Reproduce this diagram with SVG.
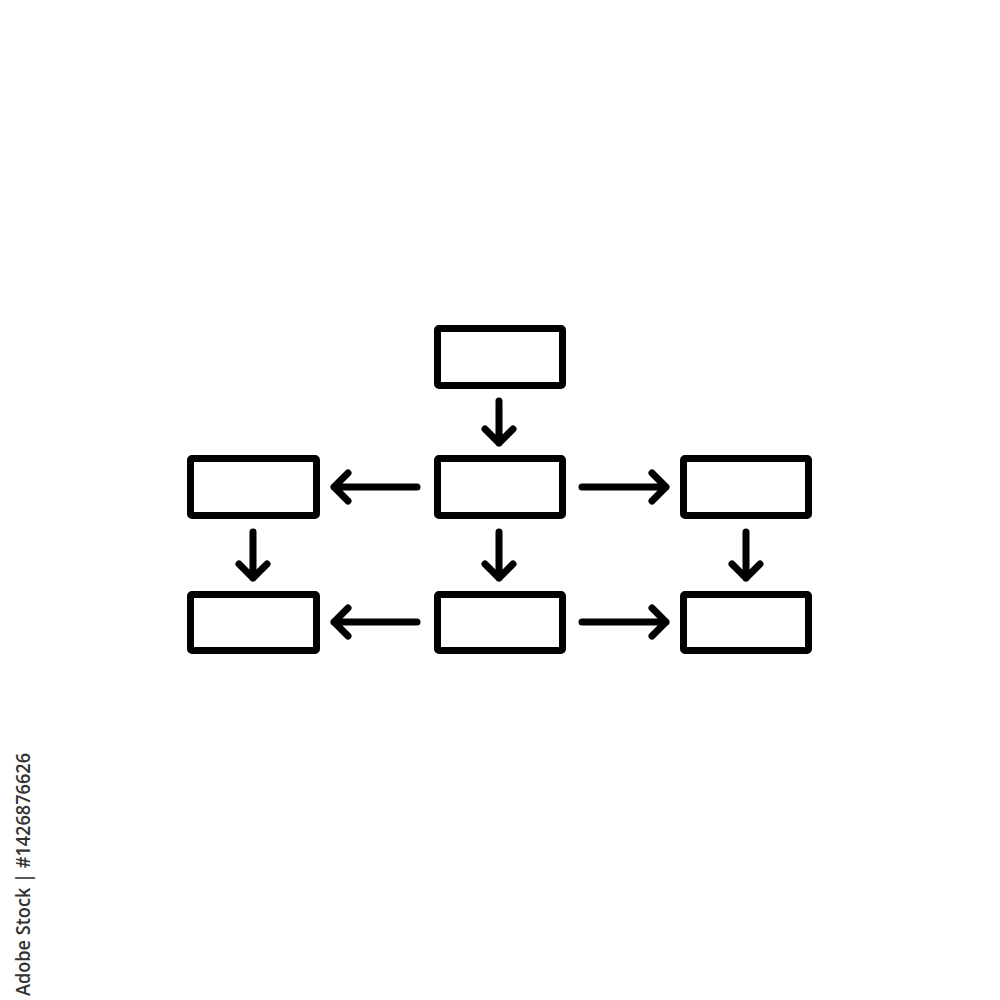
<svg xmlns="http://www.w3.org/2000/svg" width="1000" height="1000" viewBox="0 0 1000 1000">
  <defs>
    <style>
      .box { fill: #fff; stroke: #000; stroke-width: 7; stroke-linejoin: round; }
      .conn { fill: none; stroke: #000; stroke-width: 7; stroke-linecap: round; stroke-linejoin: round; }
      .wm { font-family: "Open Sans", "Liberation Sans", sans-serif; font-size: 19px; font-weight: 600; fill: #333; }
    </style>
  </defs>
  <rect width="1000" height="1000" fill="#fff"/>
  <g id="node-top"><rect class="box" x="437.5" y="328.5" width="125" height="57" rx="1.5"/></g>
  <g id="node-mid-left"><rect class="box" x="190.5" y="458.5" width="126" height="57" rx="1.5"/></g>
  <g id="node-mid-center"><rect class="box" x="437.5" y="458.5" width="125" height="57" rx="1.5"/></g>
  <g id="node-mid-right"><rect class="box" x="683.5" y="458.5" width="125" height="57" rx="1.5"/></g>
  <g id="node-bot-left"><rect class="box" x="190.5" y="594.5" width="126" height="56" rx="1.5"/></g>
  <g id="node-bot-center"><rect class="box" x="437.5" y="594.5" width="125" height="56" rx="1.5"/></g>
  <g id="node-bot-right"><rect class="box" x="683.5" y="594.5" width="125" height="56" rx="1.5"/></g>
  <g id="connectors">
    <path class="conn" d="M499 401 V443 M485 429 L499 443 L513 429"/>
    <path class="conn" d="M417 487 H334 M348 473 L334 487 L348 501"/>
    <path class="conn" d="M582 487 H666 M652 473 L666 487 L652 501"/>
    <path class="conn" d="M253 532 V578 M239 564 L253 578 L267 564"/>
    <path class="conn" d="M499 532 V578 M485 564 L499 578 L513 564"/>
    <path class="conn" d="M746 532 V578 M732 564 L746 578 L760 564"/>
    <path class="conn" d="M417 622 H334 M348 608 L334 622 L348 636"/>
    <path class="conn" d="M582 622 H666 M652 608 L666 622 L652 636"/>
  </g>
  <text class="wm" transform="translate(30 996) rotate(-90)" textLength="243" lengthAdjust="spacingAndGlyphs">Adobe Stock | #1426876626</text>
</svg>
